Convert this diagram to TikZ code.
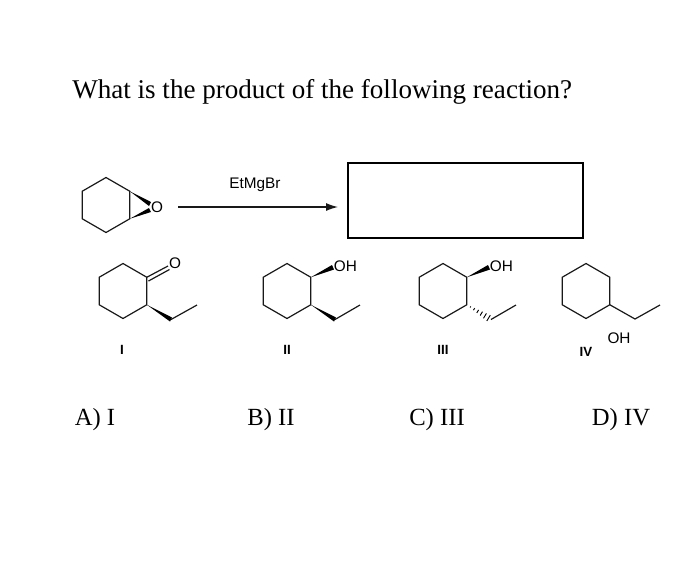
\documentclass[tikz,border=0pt]{standalone}
\usepackage{fontspec}
\setmainfont{Liberation Serif}
\newfontfamily\chemfont{Liberation Sans}
\usetikzlibrary{arrows.meta,calc}
\begin{document}
\begin{tikzpicture}[x=0.75pt,y=-0.75pt,
 bond/.style={line width=0.9pt,gray!20!black},
 chem/.style={font=\chemfont\fontsize{11.5}{12}\selectfont,inner sep=0.5pt},
 roman/.style={font=\chemfont\bfseries\fontsize{10}{11}\selectfont},
 ans/.style={font=\fontsize{18.5}{20}\selectfont}]
\useasboundingbox (0,0) rectangle (700,562);
\node[font=\fontsize{20.3}{22}\selectfont,anchor=west,inner sep=0pt] (q) at (72,92) {What is the product of the following reaction?};
% starting material
\def\hexa#1#2{\draw[bond] (#1+0,#2-27.5) -- (#1+23.8,#2-13.75) -- (#1+23.8,#2+13.75) -- (#1+0,#2+27.5) -- (#1-23.8,#2+13.75) -- (#1-23.8,#2-13.75) -- cycle;}
\hexa{106}{205}
\node[chem] (o0) at (157,207) {O};
\fill (129.8,191.25) -- (151,202) -- (149,206) -- cycle;
\fill (129.8,218.75) -- (151,212) -- (149,208) -- cycle;
% arrow
\coordinate (a1) at (178,207); \coordinate (a2) at (338,207);
\draw[bond,-{Latex[length=9pt,width=6pt]}] (a1) -- (a2);
\node[chem] (reag) at (255,185) {EtMgBr};
\draw[line width=0.8pt] (348,163) rectangle (583,238);
% I
\hexa{123}{291}
\node[chem] (o1) at (175,263) {O};
\draw[bond] (146.8,277.25) -- (168,266);
\draw[bond] (148.5,281) -- (169.5,269.5);
\fill (146.8,304.75) -- (172,317.5) -- (170,321.5) -- cycle;
\draw[bond] (171,319.5) -- (197,305);
\node[roman] (l1) at (122,350) {I};
% II
\hexa{287}{291}
\node[chem,anchor=west] (oh2) at (333,266) {OH};
\fill (310.8,277.25) -- (332,265) -- (334,269.5) -- cycle;
\fill (310.8,304.75) -- (336,317.5) -- (334,321.5) -- cycle;
\draw[bond] (335,319.5) -- (360,305);
\node[roman] (l2) at (287,350) {II};
% III
\hexa{443}{291}
\node[chem,anchor=west] (oh3) at (489,266) {OH};
\fill (466.8,277.25) -- (488,265) -- (490,269.5) -- cycle;
\foreach \t in {0.15,0.3,0.45,0.6,0.75,0.9}
  \draw[line width=0.7pt] ($(466.8,304.75)!\t!(491,319.5)+(-1.5*\t*1.3,2.5*\t*1.3)$) -- ($(466.8,304.75)!\t!(491,319.5)-(-1.5*\t*1.3,2.5*\t*1.3)$);
\draw[bond] (491,319.5) -- (516,305);
\node[roman] (l3) at (443,350) {III};
% IV
\hexa{586}{291}
\draw[bond] (609.8,304.75) -- (635,319) -- (660,305);
\node[chem] (oh4) at (619,338) {OH};
\node[roman] (l4) at (586,352) {IV};
% answers
\node[ans] (ansA) at (95,420) {A) I};
\node[ans] (ansB) at (271,420) {B) II};
\node[ans] (ansC) at (437,420) {C) III};
\node[ans] (ansD) at (621,420) {D) IV};
\end{tikzpicture}
\end{document}
